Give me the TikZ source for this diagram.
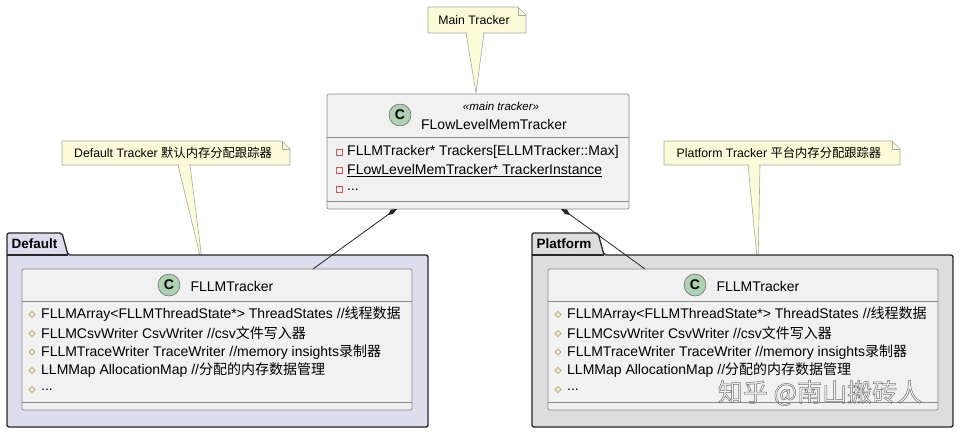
\documentclass[tikz,border=0pt]{standalone}
\usepackage{fontspec}
\setmainfont{Liberation Sans}
\newfontfamily\cjk{Noto Sans CJK SC}
\usetikzlibrary{shapes.geometric}
\definecolor{notefill}{HTML}{FBFBD7}
\definecolor{noteline}{HTML}{A8A8A0}
\definecolor{classfill}{HTML}{F1F1F1}
\definecolor{classline}{HTML}{8A8A8A}
\definecolor{defpkg}{HTML}{DDDDEE}
\definecolor{platpkg}{HTML}{DDDDDD}
\definecolor{cfill}{HTML}{ADD1B2}
\definecolor{privred}{HTML}{C82930}
\definecolor{protyel}{HTML}{B38D22}
\begin{document}
\begin{tikzpicture}[x=1pt,y=-1pt,font=\fontsize{14}{16}\selectfont,
  note/.style={fill=notefill,draw=noteline,line width=0.6pt},
  notetext/.style={font=\fontsize{12.3}{14}\selectfont,xshift=-3pt},
  cls/.style={fill=classfill,draw=classline,line width=0.7pt,rounded corners=2pt},
  pkg/.style={draw=black!85,line width=1.3pt,rounded corners=2pt},
  cicon/.style={circle,draw=black!70,fill=cfill,minimum size=22pt,inner sep=0pt,font=\fontsize{14}{16}\selectfont\bfseries},
  mem/.style={anchor=west,inner sep=0pt},
  priv/.style={draw=privred!80,line width=0.5pt},
  prot/.style={draw=protyel,line width=0.5pt},
  edge/.style={draw=black!85,line width=0.8pt}]
\useasboundingbox (0,0) rectangle (960,432);
% ---- notes
\newcommand{\mynote}[5]{% name x1 y1 x2 y2
  \fill[notefill] (#2,#3) -- (#4-8,#3) -- (#4,#3+8) -- (#4,#5) -- (#2,#5) -- cycle;
  \draw[noteline,line width=0.6pt] (#2,#3) -- (#4-8,#3) -- (#4,#3+8) -- (#4,#5) -- (#2,#5) -- cycle;
  \draw[noteline,line width=0.6pt] (#4-8,#3) -- (#4-8,#3+8) -- (#4,#3+8);
  \coordinate (#1) at ({(#2+#4)/2},{(#3+#5)/2});}
% Main tracker note
\filldraw[note] (466,33) -- (476,93) -- (484,33) -- cycle;
\mynote{nmain}{428}{7}{526}{33}
\node[notetext] (tmain) at (nmain) {Main Tracker};
% Default note
\filldraw[note] (178,165) -- (203,268) -- (190,165) -- cycle;
\mynote{ndef}{62}{141}{290}{165}
\node[notetext] at (ndef) {Default Tracker {\cjk 默认内存分配跟踪器}};
% Platform note
\filldraw[note] (748,165) -- (758,268) -- (760,165) -- cycle;
\mynote{nplat}{664}{141}{900}{165}
\node[notetext] at (nplat) {Platform Tracker {\cjk 平台内存分配跟踪器}};
\fill[notefill] (179,164) -- (189,164) -- (189,166) -- (179,166) -- cycle;
\fill[notefill] (467,32) -- (483,32) -- (483,34) -- (467,34) -- cycle;
\fill[notefill] (749,164) -- (759,164) -- (759,166) -- (749,166) -- cycle;
% ---- main class
\draw[cls] (327,94) rectangle (629,209);
\draw[classline,line width=0.7pt] (327,137) -- (629,137) (327,201) -- (629,201);
\node[cicon] (cmain) at (400,115) {C};
\node (stereo) at (501,106) {\fontsize{11.5}{12}\selectfont\itshape «main tracker»};
\node (mainname) at (494,124) {FLowLevelMemTracker};
\draw[priv] (336,149) rectangle (342,155);
\node[mem] (m1) at (347,152) {FLLMTracker* Trackers[ELLMTracker::Max]};
\draw[priv] (336,167.5) rectangle (342,173.5);
\node[mem] (m2) at (347,170.5) {\underline{FLowLevelMemTracker* TrackerInstance}};
\draw[priv] (336,186.5) rectangle (342,192.5);
\node[mem] (m3) at (347,189.5) {...};
% ---- packages
\newcommand{\mypkg}[5]{% x1 x2 tabx2 fill name
  \filldraw[pkg,fill=#4] (#1,255) -- (#1,233) -- (#3-6,233) -- (#3,255) -- (#2,255) -- (#2,427) -- (#1,427) -- cycle;
  \draw[pkg] (#1,255) -- (#3,255);
  \node[anchor=west,font=\fontsize{13.5}{15}\selectfont\bfseries] at (#1+1,244) {#5};}
\mypkg{7}{428}{68}{defpkg}{Default}
\mypkg{532}{953}{604}{platpkg}{Platform}
% ---- tracker classes
\newcommand{\mytracker}[2]{% x1 name
  \draw[cls] (#1,269) rectangle (#1+390,410);
  \draw[classline,line width=0.7pt] (#1,301) -- (#1+390,301) (#1,402) -- (#1+390,402);
  \node[cicon] (#2c) at (#1+147,285) {C};
  \node[anchor=west] (#2n) at (#1+165,286) {FLLMTracker};
  \foreach \yy/\tt in {314.5/{FLLMArray<FLLMThreadState*> ThreadStates //{\cjk 线程数据}},
                       333.5/{FLLMCsvWriter CsvWriter //csv{\cjk 文件写入器}},
                       352/{FLLMTraceWriter TraceWriter //memory insights{\cjk 录制器}},
                       370.5/{LLMMap AllocationMap //{\cjk 分配的内存数据管理}},
                       389.5/{...}}{
    \draw[prot] (#1+10,\yy-3) -- (#1+13,\yy) -- (#1+10,\yy+3) -- (#1+7,\yy) -- cycle;
    \node[mem] at (#1+19,\yy) {\tt};}}
\mytracker{22}{def}
\mytracker{548}{plat}
\coordinate (dtop) at (313,269);
\coordinate (ptop) at (645,269);
% ---- composition edges
\coordinate (dstart) at (393,211);
\coordinate (pstart) at (565,211);
\draw[edge] (dstart) -- (dtop);
\draw[edge] (pstart) -- (ptop);
\fill[black!85] (397,209) -- (391,209.5) -- (388,215) -- (393,214) -- cycle;
\fill[black!85] (561,209) -- (567,209.5) -- (570,215) -- (565,214) -- cycle;
% ---- watermark
\node[font=\fontsize{25}{27}\selectfont\cjk,text=white,draw=none] (wm) at (820,393)
  {\pgfsetstrokecolor{black!55}\pgfsetlinewidth{0.5pt}\special{pdf:literal 1 Tr}知乎 @南山搬砖人\special{pdf:literal 0 Tr}};
\end{tikzpicture}
\end{document}
